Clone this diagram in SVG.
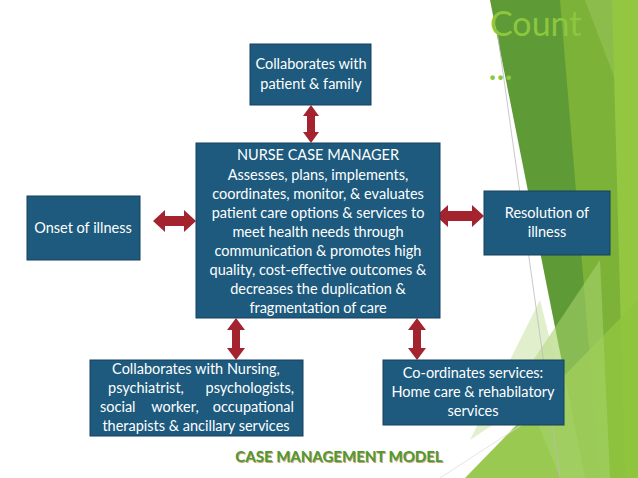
<svg xmlns="http://www.w3.org/2000/svg" width="638" height="478" viewBox="0 0 638 478">
<style>
.box{fill:#1d5a7e;stroke:#173f5c;stroke-width:1}
.t{font-family:Lato,"Open Sans",sans-serif;font-size:14.5px;fill:#fff;text-anchor:middle}
.s{text-anchor:start}
.e{text-anchor:end}
.arr{fill:#a3242f}
</style>
<rect width="638" height="478" fill="#fff"/>
<g id="background">
<polygon points="490,0 585,0 638,140 638,478 585,478" fill="#5e9a36"/>
<polygon points="560,0 638,0 638,478 600,478" fill="#7fb539" opacity="0.9"/>
<polygon points="612,0 638,0 638,478 625,478" fill="#93c742"/>
<polygon points="465,478 638,300 638,478" fill="#8fc33f" opacity="0.9"/>
<polygon points="520,380 600,260 610,478 560,478" fill="#a7d26a" opacity="0.6"/>
<polygon points="470,440 540,300 560,380" fill="#c5e09b" opacity="0.5"/>
<line x1="497" y1="30" x2="560" y2="478" stroke="#bbb" stroke-width="0.8"/>
<line x1="440" y1="478" x2="560" y2="400" stroke="#ddd" stroke-width="0.8"/>
</g>
<text x="490" y="36" font-family="Lato,sans-serif" font-size="34" fill="#8dc63f">Count</text>
<text x="489" y="80" font-family="Lato,sans-serif" font-size="30" font-weight="bold" fill="#8dc63f">…</text>
<g id="connectors">
<polygon class="arr" points="311,105 319,116 315,116 315,132 319,132 311,143 303,132 307,132 307,116 303,116"/>
<polygon class="arr" points="153,221 165,210 165,216 184,216 184,210 196,221 184,232 184,226 165,226 165,232"/>
<polygon class="arr" points="436,216 448,205 448,211 472,211 472,205 484,216 472,227 472,221 448,221 448,227"/>
<polygon class="arr" points="236,318 245,330 240,330 240,348 245,348 236,360 227,348 232,348 232,330 227,330"/>
<polygon class="arr" points="417,318 426,330 421,330 421,348 426,348 417,360 408,348 413,348 413,330 408,330"/>
</g>
<g id="top"><rect class="box" x="250" y="44" width="121" height="61"/>
<text class="t" x="311" y="69">Collaborates with</text><text class="t" x="311" y="89">patient &amp; family</text></g>
<g id="center"><rect class="box" x="196" y="143" width="244" height="175"/>
<text class="t" x="318" y="160">NURSE CASE MANAGER</text>
<text class="t" x="318" y="180">Assesses, plans, implements,</text>
<text class="t" x="318" y="199">coordinates, monitor, &amp; evaluates</text>
<text class="t" x="318" y="218">patient care options &amp; services to</text>
<text class="t" x="318" y="237">meet health needs through</text>
<text class="t" x="318" y="256">communication &amp; promotes high</text>
<text class="t" x="318" y="275">quality, cost-effective outcomes &amp;</text>
<text class="t" x="318" y="294">decreases the duplication &amp;</text>
<text class="t" x="318" y="313">fragmentation of care</text></g>
<g id="left"><rect class="box" x="27" y="196" width="113" height="64"/>
<text class="t" x="83" y="233">Onset of illness</text></g>
<g id="right"><rect class="box" x="484" y="191" width="126" height="64"/>
<text class="t" x="547" y="218">Resolution of</text><text class="t" x="547" y="237">illness</text></g>
<g id="bottomleft"><rect class="box" x="90" y="360" width="213" height="76"/>
<text class="t" x="196" y="374">Collaborates with Nursing,</text>
<text class="t s" x="108" y="393">psychiatrist,</text>
<text class="t e" x="294" y="393">psychologists,</text>
<text class="t s" x="100" y="412">social</text>
<text class="t" x="175" y="412">worker,</text>
<text class="t e" x="294" y="412">occupational</text>
<text class="t" x="196" y="431">therapists &amp; ancillary services</text></g>
<g id="bottomright"><rect class="box" x="383" y="360" width="181" height="65"/>
<text class="t" x="473" y="378">Co-ordinates services:</text>
<text class="t" x="473" y="397">Home care &amp; rehabilatory</text>
<text class="t" x="473" y="416">services</text></g>
<text x="339" y="462" font-family="Lato,sans-serif" font-weight="bold" font-size="15" fill="#c9a27a" text-anchor="middle" dx="1" dy="1">CASE MANAGEMENT MODEL</text>
<text x="339" y="462" font-family="Lato,sans-serif" font-weight="bold" font-size="15" fill="#4e9a2f" text-anchor="middle">CASE MANAGEMENT MODEL</text>
</svg>
